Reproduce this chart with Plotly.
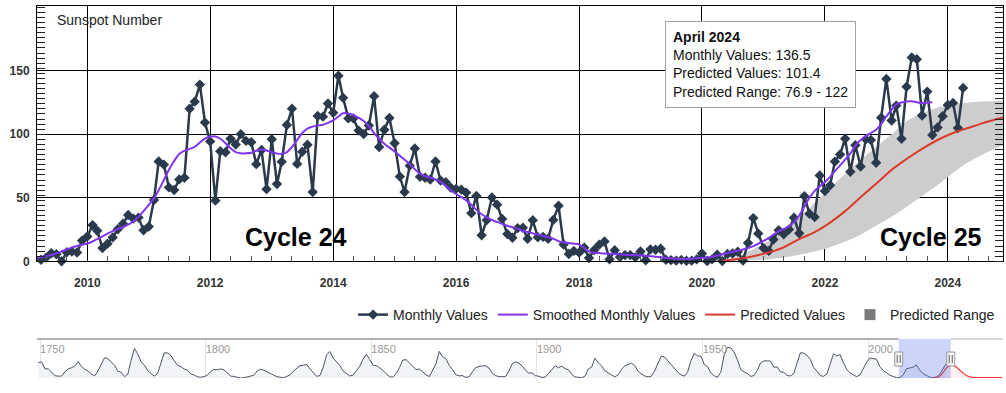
import pandas as pd
import plotly.graph_objects as go

# ---------------- data ----------------
monthly_start = "2009-03-01"
monthly_values = [
    0.6, 1.2, 2.9, 6.3, 5.5, 0.0, 7.1, 7.7, 6.9, 16.3,
    19.5, 28.5, 24.0, 10.4, 13.9, 18.8, 25.2, 29.6, 36.4, 33.6, 34.4, 24.5,
    27.3, 48.3, 78.6, 76.1, 58.2, 56.1, 64.5, 65.8, 120.1, 125.7, 139.1, 109.3,
    94.4, 47.8, 86.6, 85.9, 96.5, 92.0, 100.1, 94.8, 93.7, 76.5, 87.6, 56.8,
    96.1, 60.9, 78.3, 107.3, 120.2, 76.7, 86.2, 91.8, 54.5, 114.4, 113.9, 124.2,
    117.0, 146.1, 128.7, 112.5, 112.5, 102.9, 100.2, 106.9, 130.0, 90.0, 103.6, 112.9,
    93.0, 66.7, 54.5, 75.3, 88.8, 66.5, 65.8, 64.4, 78.6, 63.6, 62.2, 58.0,
    57.0, 56.4, 54.1, 37.9, 51.5, 20.5, 32.4, 50.2, 44.6, 33.4, 21.4, 18.5,
    26.1, 26.4, 17.7, 32.3, 18.9, 19.2, 17.8, 32.6, 43.7, 13.2, 5.7, 8.2,
    6.8, 10.7, 2.5, 8.9, 13.1, 15.6, 1.6, 8.7, 3.3, 4.9, 4.9, 3.1,
    7.7, 0.8, 9.4, 9.1, 9.9, 1.2, 0.9, 0.5, 1.1, 0.4, 0.5, 1.5,
    6.2, 0.2, 1.5, 5.2, 0.2, 5.8, 6.1, 7.5, 0.6, 14.4, 34.0, 21.8,
    10.4, 8.2, 17.2, 24.5, 21.2, 25.0, 34.3, 22.0, 51.3, 37.4, 34.8, 67.5,
    55.3, 59.9, 78.5, 84.1, 96.5, 70.5, 91.4, 74.6, 96.0, 95.5, 77.6, 113.1,
    143.6, 110.9, 122.6, 96.4, 137.4, 160.5, 159.1, 114.8, 133.6, 99.4, 105.4, 114.2,
    123.0, 124.7, 104.9, 136.5,
]

smoothed_start = "2009-03-01"
smoothed_values = [
    2.7, 3.3, 4.0, 4.9, 6.2, 7.8, 9.4, 10.8, 12.0, 13.0,
    14.0, 15.6, 17.5, 19.6, 21.8, 23.8, 25.4, 27.0, 28.8, 31.5, 35.0, 39.5,
    44.5, 49.5, 56.0, 64.0, 72.0, 79.0, 84.5, 87.0, 88.5, 90.0, 93.5, 96.5,
    98.0, 98.3, 96.5, 93.0, 89.0, 86.0, 85.0, 85.0, 85.5, 87.0, 88.0, 87.2,
    86.0, 84.8, 84.5, 86.0, 90.0, 95.5, 101.0, 104.5, 106.0, 107.0, 107.5, 109.0,
    111.0, 114.0, 116.5, 116.4, 115.0, 113.0, 110.5, 106.5, 101.0, 96.5, 92.5, 89.5,
    86.5, 83.0, 80.0, 76.5, 72.5, 69.0, 67.0, 66.0, 64.5, 62.5, 59.5, 56.0,
    53.0, 50.5, 48.0, 44.5, 40.5, 37.0, 34.5, 32.5, 31.0, 29.5, 28.0, 26.8,
    25.5, 24.0, 23.0, 22.0, 21.0, 20.0, 19.0, 17.8, 15.8, 15.0, 14.4, 13.9,
    13.2, 10.5, 7.6, 6.8, 6.5, 6.2, 6.0, 5.8, 5.5, 5.2, 5.0, 4.8,
    4.7, 4.4, 4.0, 3.6, 3.2, 2.8, 2.4, 2.1, 1.9, 1.9, 2.1, 2.5,
    2.7, 3.0, 3.6, 4.5, 5.6, 6.6, 7.4, 8.3, 9.3, 10.5, 12.0, 13.8,
    16.0, 18.5, 21.0, 23.5, 25.5, 27.5, 31.0, 36.0, 43.0, 50.0, 55.5, 59.0,
    62.5, 66.5, 71.0, 75.5, 80.0, 85.0, 91.0, 95.5, 98.5, 101.0, 103.5, 108.0,
    114.0, 119.5, 123.5, 125.0, 125.8, 126.0, 125.2, 124.6, 124.8, 125.2,
]

pred_dates = [
    "2020-05-01", "2020-08-01", "2020-11-01", "2021-02-01", "2021-05-01",
    "2021-08-01", "2021-11-01", "2022-02-01", "2022-05-01", "2022-08-01",
    "2022-11-01", "2023-02-01", "2023-05-01", "2023-08-01", "2023-11-01",
    "2024-02-01", "2024-04-01", "2024-05-01", "2024-08-01", "2024-11-01",
    "2025-02-01",
]
pred_values = [0.3, 1.8, 4.0, 7.0, 11.0, 17.5, 23.0, 30.5, 39.5, 50.5, 61.0,
               72.0, 80.5, 88.5, 95.5, 101.0, 103.8, 105.0, 109.0, 112.5, 114.5]
pred_high = [0.5, 4.0, 9.5, 16.0, 24.0, 34.0, 46.0, 58.0, 69.0, 80.0, 90.0,
             100.0, 110.0, 116.5, 121.0, 123.8, 124.5, 125.0, 125.8, 126.3, 126.6]
pred_low = [0.1, 0.4, 0.8, 1.5, 3.0, 5.2, 7.8, 11.0, 15.5, 21.0, 28.0,
            35.0, 43.0, 51.5, 60.0, 69.5, 75.5, 78.0, 84.5, 90.0, 94.0]

# navigator: yearly mean sunspot number 1749-2023
hist_first_year = 1749
hist_values = [
    134.8, 139.0, 79.5, 79.7, 51.2, 20.3, 16.0, 17.0, 54.0, 79.3,
    90.0, 104.8, 143.2, 102.0, 75.2, 60.7, 34.8, 19.0, 63.0, 116.3,
    176.8, 168.0, 136.0, 110.8, 58.0, 51.0, 11.7, 33.0, 154.2, 257.3,
    209.8, 141.3, 113.5, 64.2, 38.0, 17.0, 40.2, 138.2, 220.0, 218.2,
    196.8, 149.8, 111.0, 100.0, 78.2, 68.3, 35.5, 26.7, 10.7, 6.8,
    11.3, 24.2, 56.7, 75.0, 71.8, 79.2, 70.3, 46.8, 16.8, 13.5,
    4.2, 0.0, 2.3, 8.3, 20.3, 23.2, 59.0, 76.3, 68.3, 50.2,
    39.8, 26.0, 11.0, 6.7, 3.0, 14.2, 27.7, 60.5, 82.7, 107.0,
    111.7, 118.2, 79.7, 45.8, 14.2, 22.0, 94.8, 202.5, 230.5, 172.0,
    142.8, 107.7, 61.2, 40.3, 17.8, 25.0, 66.8, 102.5, 164.2, 207.8,
    160.5, 111.0, 107.5, 90.2, 65.0, 34.3, 11.2, 7.2, 37.8, 91.3,
    156.3, 159.7, 128.7, 98.5, 73.3, 78.3, 50.8, 27.2, 12.2, 62.7,
    123.3, 231.7, 185.3, 169.3, 110.3, 74.5, 28.3, 18.8, 20.7, 5.7,
    10.0, 53.8, 90.5, 99.5, 106.2, 105.8, 87.0, 42.3, 21.8, 11.3,
    10.5, 11.8, 59.3, 121.7, 141.8, 130.0, 106.7, 69.7, 43.7, 44.5,
    20.2, 15.8, 4.5, 8.3, 40.7, 70.0, 105.8, 89.7, 103.3, 80.8,
    73.2, 31.0, 9.5, 6.0, 2.3, 16.0, 79.0, 95.2, 173.2, 134.3,
    106.0, 62.7, 43.5, 23.7, 9.7, 27.8, 73.8, 106.5, 115.0, 129.7,
    108.2, 59.5, 35.3, 18.5, 9.5, 14.5, 60.2, 132.8, 190.7, 182.7,
    148.0, 113.0, 79.2, 51.0, 27.2, 16.0, 55.3, 154.3, 214.1, 192.5,
    190.3, 118.5, 98.0, 44.5, 19.6, 6.2, 53.7, 200.1, 268.6, 261.0,
    224.6, 158.6, 76.1, 53.1, 39.4, 14.4, 21.3, 66.4, 132.5, 149.6,
    149.0, 147.6, 94.1, 97.3, 53.7, 48.7, 21.9, 17.8, 38.8, 130.6,
    219.5, 218.4, 198.3, 162.4, 91.0, 60.5, 20.6, 14.8, 33.9, 123.0,
    211.1, 191.8, 203.3, 133.0, 76.1, 44.9, 25.1, 11.6, 28.9, 88.3,
    136.3, 173.9, 170.4, 163.6, 99.3, 65.3, 45.8, 24.7, 12.6, 4.2,
    4.8, 24.9, 80.8, 84.5, 94.0, 113.3, 69.8, 39.8, 21.7, 7.0,
    3.6, 8.8, 29.6, 83.2, 125.5,
]
nav_pred_years = [2019, 2020, 2021, 2022, 2023, 2024, 2025, 2026, 2027, 2028,
                  2029, 2030, 2031, 2032, 2033, 2034, 2036, 2038, 2040]
nav_pred_values = [0.5, 3.0, 15.0, 45.0, 85.0, 106.0, 114.0, 98.0, 72.0, 46.0,
                   24.0, 11.0, 5.0, 3.0, 2.5, 2.5, 2.5, 2.5, 2.5]

y_ticks = [0, 50, 100, 150]
view_start, view_end = "2009-03-08", "2024-11-24"
nav_start, nav_end = "1749-02-01", "2040-08-28"

# ---------------- figure ----------------
FONT = "Liberation Sans, Arial, sans-serif"
DARK = "#2a3a4c"
PURPLE = "#8035f0"
RED = "#dc3a2a"

monthly_dates = pd.date_range(monthly_start, periods=len(monthly_values), freq="MS")
smoothed_dates = pd.date_range(smoothed_start, periods=len(smoothed_values), freq="MS")
hist_dates = [f"{y}-07-01" for y in range(hist_first_year, hist_first_year + len(hist_values))]
nav_pred_dates = [f"{y}-07-01" for y in nav_pred_years]

fig = go.Figure()

# predicted range band
fig.add_trace(go.Scatter(x=pred_dates, y=pred_low, mode="lines", line=dict(width=0, shape="spline"),
                         showlegend=False, hoverinfo="skip"))
fig.add_trace(go.Scatter(x=pred_dates, y=pred_high, mode="lines", line=dict(width=0, shape="spline"),
                         fill="tonexty", fillcolor="rgba(205,205,205,1)", showlegend=False, hoverinfo="skip"))

fig.add_trace(go.Scatter(x=monthly_dates, y=monthly_values, name="Monthly Values", mode="lines+markers",
                         line=dict(color=DARK, width=2.5), marker=dict(symbol="diamond", size=8, color=DARK),
                         cliponaxis=False))
fig.add_trace(go.Scatter(x=smoothed_dates, y=smoothed_values, name="Smoothed Monthly Values", mode="lines",
                         line=dict(color=PURPLE, width=2, shape="spline")))
fig.add_trace(go.Scatter(x=pred_dates, y=pred_values, name="Predicted Values", mode="lines",
                         line=dict(color=RED, width=2, shape="spline")))
fig.add_trace(go.Scatter(x=[None], y=[None], name="Predicted Range", mode="markers",
                         marker=dict(symbol="square", size=11, color="#7a7a7a")))

# navigator
fig.add_trace(go.Scatter(x=hist_dates, y=hist_values, xaxis="x2", yaxis="y2", mode="lines",
                         line=dict(color="#4b5563", width=1), fill="tozeroy", fillcolor="#f1f3f6",
                         showlegend=False, hoverinfo="skip"))
fig.add_trace(go.Scatter(x=nav_pred_dates, y=nav_pred_values, xaxis="x2", yaxis="y2", mode="lines",
                         line=dict(color="#ff3030", width=1.2, shape="spline"), fill="tozeroy",
                         fillcolor="rgba(255,60,60,0.08)", showlegend=False, hoverinfo="skip"))

H_TOP, H_BOT = 6, 15
PH = 393 - H_TOP - H_BOT  # plot height in px


def py(pix):
    return (393 - H_BOT - pix) / PH


def px(pix):
    return (pix - 37) / 966


main_bottom = py(261.3)
nav_top = py(339)

fig.update_layout(
    width=1006, height=393,
    margin=dict(l=37, r=3, t=H_TOP, b=H_BOT, autoexpand=False),
    paper_bgcolor="white", plot_bgcolor="white",
    font=dict(family=FONT, color="#222"),
    xaxis=dict(domain=[0, 1], anchor="y", type="date", range=[view_start, view_end],
               tick0="2010-01-01", dtick="M24", tickformat="<b>%Y</b>",
               showgrid=True, gridcolor="#000", gridwidth=1, ticks="",
               showline=True, linecolor="#000", linewidth=1, mirror=True,
               tickfont=dict(size=12, color="#333", family=FONT), ticklabelstandoff=10,
               minor=dict(dtick="M4", tick0="2010-01-01", ticks="inside", ticklen=5,
                          tickcolor="#555", tickwidth=1, showgrid=False),
               zeroline=False, automargin=False),
    yaxis=dict(domain=[main_bottom, 1], anchor="x", range=[0, 201],
               tickvals=y_ticks, ticktext=[f"<b>{v}</b>" for v in y_ticks],
               showgrid=True, gridcolor="#000", gridwidth=1, ticks="",
               showline=True, linecolor="#000", linewidth=1, mirror="ticks",
               tickfont=dict(size=12, color="#333", family=FONT), ticklabelstandoff=4,
               minor=dict(dtick=4, tick0=0, ticks="inside", ticklen=8,
                          tickcolor="#222", tickwidth=1, showgrid=False),
               zeroline=False, automargin=False),
    xaxis2=dict(domain=[0, 1], anchor="y2", type="date", range=[nav_start, nav_end], side="top",
                tick0="1750-01-01", dtick="M600", tickformat="%Y",
                ticklabelposition="inside right", ticks="",
                tickfont=dict(size=11, color="#999", family=FONT),
                showgrid=True, gridcolor="#e3e3e3", gridwidth=1, showline=False, zeroline=False,
                automargin=False),
    yaxis2=dict(domain=[0, nav_top], anchor="x2", range=[0, 340], visible=False),
    legend=dict(orientation="h", x=0.997, xanchor="right", y=py(315), yanchor="middle",
                font=dict(size=14, color="#222", family=FONT), bgcolor="rgba(0,0,0,0)",
                itemwidth=30, traceorder="normal"),
    showlegend=True,
)

annotations = [
    dict(xref="paper", yref="paper", x=px(55), y=py(20), xanchor="left", yanchor="middle",
         text="Sunspot Number", showarrow=False, font=dict(size=14, color="#222", family=FONT)),
    dict(xref="paper", yref="paper", x=px(296), y=py(237), xanchor="center", yanchor="middle",
         text="<b>Cycle 24</b>", showarrow=False, font=dict(size=25, color="#000", family=FONT)),
    dict(xref="paper", yref="paper", x=px(931), y=py(237), xanchor="center", yanchor="middle",
         text="<b>Cycle 25</b>", showarrow=False, font=dict(size=25, color="#000", family=FONT)),
    dict(xref="paper", yref="paper", x=px(665), y=py(21), xanchor="left", yanchor="top",
         text="<b>April 2024</b><br>Monthly Values: 136.5<br>Predicted Values: 101.4<br>Predicted Range: 76.9 - 122",
         showarrow=False, align="left", bgcolor="white", bordercolor="#a0a0a0", borderwidth=1,
         borderpad=7, font=dict(size=14, color="#111", family=FONT)),
]
fig.update_layout(annotations=annotations)

nav_y0, nav_y1 = 0, nav_top
shapes = [
    dict(type="line", xref="x2", yref="paper", x0=nav_start, x1=view_start, y0=nav_y1, y1=nav_y1,
         line=dict(color="#9a9a9a", width=1.5)),
    dict(type="line", xref="x2", yref="paper", x0=view_end, x1=nav_end, y0=nav_y1, y1=nav_y1,
         line=dict(color="#c8c8c8", width=1.5)),
    dict(type="rect", xref="x2", yref="paper", x0=view_start, x1=view_end, y0=nav_y0, y1=nav_y1,
         fillcolor="rgba(100,120,240,0.32)", line=dict(width=0), layer="above"),
]
for xd in (view_start, view_end):
    shapes.append(dict(type="rect", xref="x2", yref="paper", xsizemode="pixel", xanchor=xd,
                       x0=-4, x1=4, y0=py(366), y1=py(352), fillcolor="#f2f2f2",
                       line=dict(color="#999", width=1), layer="above"))
    for off in (-1.5, 1.5):
        shapes.append(dict(type="line", xref="x2", yref="paper", xsizemode="pixel", xanchor=xd,
                           x0=off, x1=off, y0=py(363), y1=py(355),
                           line=dict(color="#666", width=1), layer="above"))
fig.update_layout(shapes=shapes)

fig.write_html("out.html", config={"displayModeBar": False},
               post_script="document.body.style.margin='0px';")
